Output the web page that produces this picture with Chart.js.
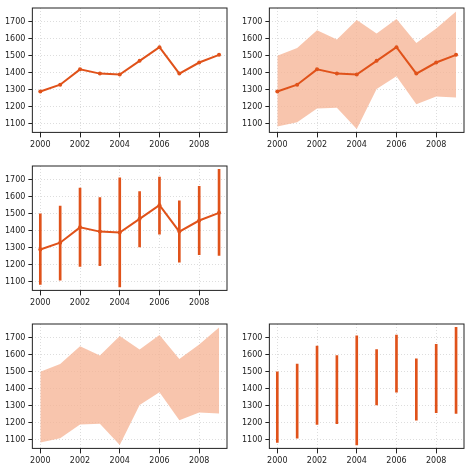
<!DOCTYPE html>
<html lang="en">
<head>
<meta charset="UTF-8" />
<script src="https://cdn.jsdelivr.net/npm/chart.js"></script>
<style>
  body { margin: 0; background: white; }
  .wrap { position: relative; width: 474px; height: 474px; }
  .cell { position: absolute; width: 237px; height: 155px; }
</style>
</head>
<body>
<div class="wrap">
  <div class="cell" style="left:0;top:0"><canvas id="c1"></canvas></div>
  <div class="cell" style="left:237px;top:0"><canvas id="c2"></canvas></div>
  <div class="cell" style="left:0;top:158px"><canvas id="c3"></canvas></div>
  <div class="cell" style="left:0;top:316px"><canvas id="c4"></canvas></div>
  <div class="cell" style="left:237px;top:316px"><canvas id="c5"></canvas></div>
</div>
<script>
  const years = [2000, 2001, 2002, 2003, 2004, 2005, 2006, 2007, 2008, 2009];
  const mid   = [1290, 1330, 1420, 1395, 1390, 1470, 1550, 1395, 1460, 1505];
  const lower = [1085, 1110, 1190, 1195, 1070, 1305, 1380, 1215, 1260, 1255];
  const upper = [1500, 1545, 1650, 1595, 1710, 1630, 1715, 1575, 1660, 1760];
  const xTicks = [2000, 2002, 2004, 2006, 2008];
  const yTicks = [1100, 1200, 1300, 1400, 1500, 1600, 1700];

  const orange = '#e0521a';
  const band = 'rgba(246,178,145,0.75)';

  const boxPlugin = {
    id: 'box',
    afterDraw(chart) {
      const a = chart.chartArea, ctx = chart.ctx;
      ctx.save();
      ctx.strokeStyle = '#222';
      ctx.lineWidth = 1;
      ctx.strokeRect(a.left, a.top, a.right - a.left, a.bottom - a.top);
      ctx.restore();
    }
  };

  function pts(vals) { return years.map((y, i) => ({ x: y, y: vals[i] })); }

  function make(id, opts) {
    const ds = [];
    if (opts.band) {
      ds.push({ type: 'line', order: 2, data: pts(lower), borderWidth: 0, pointRadius: 0, fill: false });
      ds.push({ type: 'line', order: 2, data: pts(upper), borderWidth: 0, pointRadius: 0, fill: '-1', backgroundColor: band });
    }
    if (opts.bars) {
      ds.push({ type: 'bar', order: 1, data: years.map((y, i) => ({ x: y, y: [lower[i], upper[i]] })),
        backgroundColor: orange, barThickness: 2 });
    }
    if (opts.line) {
      ds.push({ type: 'line', order: 0, data: pts(mid), borderColor: orange, backgroundColor: orange,
        borderWidth: 2, pointRadius: 2, pointBorderWidth: 0, pointHoverRadius: 2, fill: false, tension: 0 });
    }
    new Chart(document.getElementById(id), {
      data: { datasets: ds },
      options: {
        animation: false, responsive: true, maintainAspectRatio: false,
        events: [],
        layout: { padding: { left: 2, right: 10, top: 8, bottom: 2 } },
        plugins: { legend: { display: false }, tooltip: { enabled: false } },
        scales: {
          x: {
            type: 'linear', min: 1999.6, max: 2009.4, offset: false,
            afterBuildTicks: s => { s.ticks = xTicks.map(v => ({ value: v })); },
            ticks: { color: '#222', font: { size: 8, family: 'DejaVu Sans' }, callback: v => String(v), maxRotation: 0 },
            grid: { color: '#ddd', tickColor: '#222', tickLength: 5, offset: false },
            border: { display: false, dash: [1, 2] }
          },
          y: {
            min: 1050, max: 1780,
            afterBuildTicks: s => { s.ticks = yTicks.map(v => ({ value: v })); },
            ticks: { color: '#222', font: { size: 8, family: 'DejaVu Sans' }, callback: v => String(v) },
            grid: { color: '#ddd', tickColor: '#222', tickLength: 4 },
            border: { display: false, dash: [1, 2] }
          }
        }
      },
      plugins: [boxPlugin]
    });
  }

  make('c1', { line: true });
  make('c2', { band: true, line: true });
  make('c3', { bars: true, line: true });
  make('c4', { band: true });
  make('c5', { bars: true });
</script>
</body>
</html>
